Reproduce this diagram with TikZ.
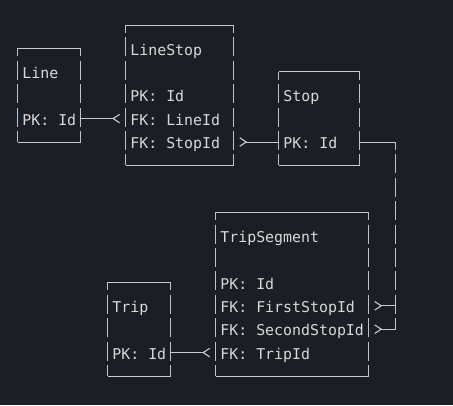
\documentclass[tikz,border=0pt]{standalone}
\usepackage{fontspec}
\setmonofont{DejaVu Sans Mono}
\usepackage{tikz}
\usetikzlibrary{arrows.meta, positioning, calc}

\definecolor{termbg}{HTML}{1B1E24}
\definecolor{termfg}{HTML}{D8D8D8}
\definecolor{termrule}{HTML}{C8CCD0}
\definecolor{termbar}{HTML}{B2C6DA}

\tikzset{
  entity/.style={rectangle, inner sep=0pt, outer sep=0pt},
  field/.style={anchor=west, inner sep=0pt, text height=13.4pt, text depth=0pt,
    text=termfg, font=\ttfamily\fontsize{14.9}{17}\selectfont},
  rule/.style={termrule, line width=1pt},
  bar/.style={termbar, line width=1.2pt, dash pattern=on 19pt off 4.4pt, dash phase=11pt},
  many/.style={-{Straight Barb[reversed, length=6.5pt, width=8.5pt, line width=1.1pt]}, shorten >=5.5pt},
}

% frame of an entity: solid top and bottom, broken sides
\newcommand\erframe[1]{%
  \draw[rule] (#1.north west) -- (#1.north east);
  \draw[rule] (#1.south west) -- (#1.south east);
  \draw[bar] (#1.north west) -- (#1.south west);
  \draw[bar] (#1.north east) -- (#1.south east);
}

\begin{document}
\begin{tikzpicture}[x=9pt, y=-23.4pt, shift={(17.7pt,-25pt)}]
    % Background
    \fill[termbg] (-17.7pt,25pt) rectangle (435.3pt,-380pt);

    % Entities
    \node[entity, minimum width=63pt, minimum height=93.6pt] (line) at (3.5,3) {};
    \node[entity, minimum width=108pt, minimum height=140.4pt] (linestop) at (18,3) {};
    \node[entity, minimum width=81pt, minimum height=93.6pt] (stop) at (33.5,4) {};
    \node[entity, minimum width=153pt, minimum height=163.8pt] (seg) at (30.5,11.5) {};
    \node[entity, minimum width=63pt, minimum height=93.6pt] (trip) at (13.5,13) {};

    \erframe{line}
    \erframe{linestop}
    \erframe{stop}
    \erframe{seg}
    \erframe{trip}

    % Fields
    \node[field] (line-name) at (0.5,2) {Line};
    \node[field] (line-pk) at (0.5,4) {PK: Id};

    \node[field] (linestop-name) at (12.5,1) {LineStop};
    \node[field] (linestop-pk) at (12.5,3) {PK: Id};
    \node[field] (linestop-line) at (12.5,4) {FK: LineId};
    \node[field] (linestop-stop) at (12.5,5) {FK: StopId};

    \node[field] (stop-name) at (29.5,3) {Stop};
    \node[field] (stop-pk) at (29.5,5) {PK: Id};

    \node[field] (seg-name) at (22.5,9) {TripSegment};
    \node[field] (seg-pk) at (22.5,11) {PK: Id};
    \node[field] (seg-first) at (22.5,12) {FK: FirstStopId};
    \node[field] (seg-second) at (22.5,13) {FK: SecondStopId};
    \node[field] (seg-trip) at (22.5,14) {FK: TripId};

    \node[field] (trip-name) at (10.5,12) {Trip};
    \node[field] (trip-pk) at (10.5,14) {PK: Id};

    % Relations
    \draw[rule, many] (line.east |- line-pk) -- (linestop.west |- linestop-line);
    \draw[rule, many] (stop.west |- stop-pk) -- (linestop.east |- linestop-stop);

    \coordinate (bus) at (42,5);
    \draw[rule] (stop.east |- stop-pk) -- (bus);
    \draw[bar] (bus) -- (bus |- seg-second);
    \draw[rule, many] (bus |- seg-first) -- (seg.east |- seg-first);
    \draw[rule, many] (bus |- seg-second) -- (seg.east |- seg-second);

    \draw[rule, many] (trip.east |- trip-pk) -- (seg.west |- seg-trip);

\end{tikzpicture}
\end{document}
